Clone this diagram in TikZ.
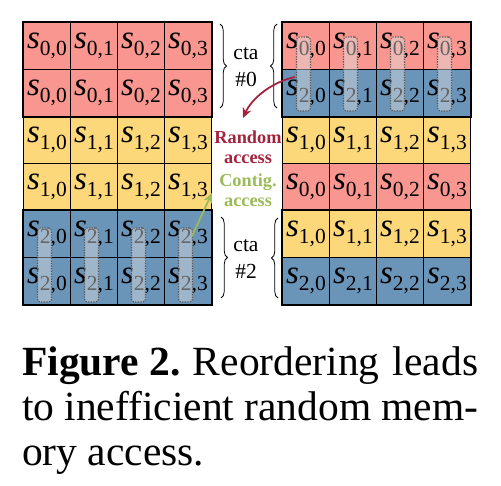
\documentclass[tikz,border=0pt]{standalone}
\usepackage{fontspec}
\setmainfont{Liberation Serif}
\usetikzlibrary{positioning,arrows.meta,calc,decorations.pathreplacing}

\definecolor{cta0}{HTML}{F8968F}
\definecolor{cta1}{HTML}{FDD87A}
\definecolor{cta2}{HTML}{6A94B8}
\definecolor{randred}{HTML}{A3233D}
\definecolor{contgreen}{HTML}{9BBB59}

\newcommand{\sval}[2]{{\itshape s}\raisebox{-0.2em}{\fontsize{21.5}{21.5}\selectfont #1,#2}}

\tikzset{
  cellbox/.style={draw,line width=0.6pt,minimum width=47pt,minimum height=47pt,inner sep=0pt,font=\fontsize{33}{33}\selectfont},
  blockline/.style={line width=1.6pt},
  hilite/.style={draw=black!65,dash pattern=on 1.3pt off 1.3pt,line width=1.1pt,rounded corners=3pt,fill=black!12,fill opacity=0.45,minimum width=14pt,minimum height=74pt,inner sep=0pt},
  ctabrace/.style={decorate,decoration={brace,amplitude=6.5pt},line width=0.8pt},
  ctalabel/.style={align=center,inner sep=0pt,font=\fontsize{21.5}{26.7}\selectfont},
  acclabel/.style={align=center,inner sep=0pt,font=\bfseries\fontsize{18.3}{20}\selectfont},
  randarrow/.style={draw=randred,line width=1.8pt,-{Stealth[length=10pt,width=9pt]}},
  ctgarrow/.style={draw=contgreen,line width=1.8pt,-{Stealth[length=10pt,width=9pt]}},
}

\begin{document}
\begin{tikzpicture}[x=1pt,y=-1pt]
\useasboundingbox (0,0) rectangle (501,485);
\foreach \r/\i in {0/0,1/0,2/1,3/1,4/2,5/2}
  \foreach \c in {0,...,3}
    \node[cellbox,fill=cta\i] (L-\r-\c) at (47+47*\c,46+47*\r) {\sval{\i}{\c}};
\foreach \r/\i in {0/0,1/2,2/1,3/0,4/1,5/2}
  \foreach \c in {0,...,3}
    \node[cellbox,fill=cta\i] (R-\r-\c) at (306+47*\c,46+47*\r) {\sval{\i}{\c}};
\draw[blockline] (L-0-0.north west) rectangle (L-1-3.south east);
\draw[blockline] (L-4-0.north west) rectangle (L-5-3.south east);
\draw[blockline] (R-0-0.north west) rectangle (R-1-3.south east);
\draw[blockline] (R-4-0.north west) rectangle (R-5-3.south east);
\foreach \c in {0,...,3} {
  \node[hilite] (Lhl-\c) at (44.5+47*\c,265) {};
  \node[hilite] (Rhl-\c) at (303.5+47*\c,74) {};
}
\draw[ctabrace] (220,24) -- (220,108);
\draw[ctabrace] (277,108) -- (277,24);
\draw[ctabrace] (221,217) -- (221,298);
\draw[ctabrace] (278,298) -- (278,218);
\node[ctalabel] (cta0) at (246,67) {cta\\\#0};
\node[ctalabel] (cta2) at (246,259) {cta\\\#2};
\node[acclabel,text=randred] (rnd) at (248,147) {Random\\access};
\node[acclabel,text=contgreen] (ctg) at (248,190) {Contig.\\access};
\coordinate (rnd-from) at (295,77);
\coordinate (rnd-to) at (243,118);
\draw[randarrow] (rnd-from) .. controls (272,82) and (252,98) .. (rnd-to);
\coordinate (ctg-from) at (192,236);
\coordinate (ctg-to) at (212,193);
\draw[ctgarrow] (ctg-from) -- (ctg-to);
\node[anchor=north west,inner sep=0pt,align=left,font=\fontsize{41.5}{45}\selectfont] (cap) at (22,346)
  {\makebox[456pt][s]{\textbf{Figure\kern0.25em2.}\kern0.3em Reordering leads}\\\makebox[456pt][s]{to inefficient random mem-}\\ory access.};
\end{tikzpicture}
\end{document}
